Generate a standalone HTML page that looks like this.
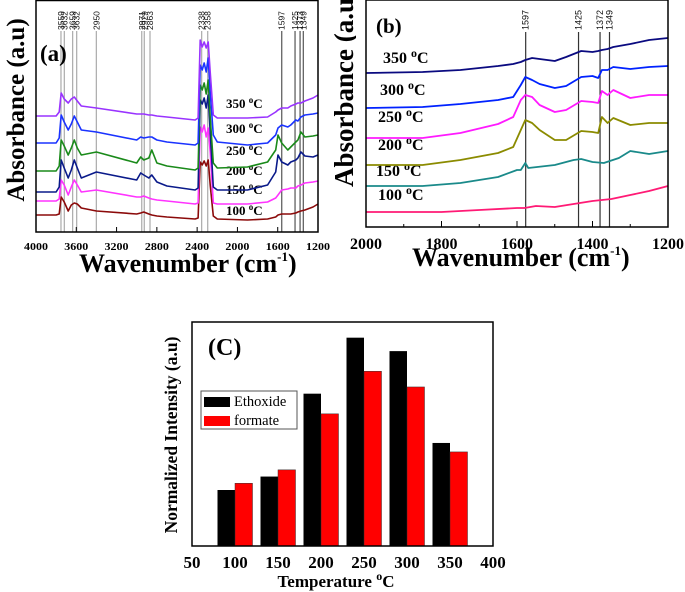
<!DOCTYPE html>
<html><head><meta charset="utf-8">
<style>
body{margin:0;background:#fff;}
svg{display:block;font-family:"Liberation Serif",serif;}
</style></head>
<body>
<svg id="fig" width="685" height="592" viewBox="0 0 685 592">
<g id="pa"></g>
<g id="pb"></g>
<g id="pc"></g>
</svg>
<script>
// ---------- Panel (a) data ----------
const aWave = [4000,3800,3770,3750,3720,3680,3650,3620,3590,3550,3400,3000,2960,2930,2880,2850,2800,2700,2420,2390,2370,2350,2330,2310,2290,2270,2240,2200,1900,1700,1620,1597,1560,1500,1470,1420,1400,1370,1330,1250,1200];
const aLabels = ["100","150","200","250","300","350"];
const aColors = ["#8b0a0a","#ff33ff","#0a1a8a","#1a8a1a","#1a33ff","#9933ff"];
const a100 = [17,17,18,35,30,21,27,29,28,24,21,18,19,20,18,17,16,15,13,14,70,67,71,66,72,47,16,13,12,13,15,17,18,18,18,19,20,21,22,25,28];
const a150 = [31,31,33,52,47,37,45,52,47,40,42,35,35,36,34,33,32,31,28,29,105,100,107,95,104,80,29,28,28,30,34,37,42,43,44,44,46,47,49,50,51];
const a200 = [40,40,45,72,64,54,62,72,64,54,60,52,59,57,54,57,50,46,42,44,132,128,134,124,137,100,45,42,42,47,60,77,70,67,70,72,74,80,76,75,77];
const a250 = [61,61,66,92,86,77,84,92,84,77,80,69,75,72,74,82,69,66,62,64,147,142,149,138,152,115,69,64,65,70,82,97,89,82,85,90,92,100,95,96,97];
const a300 = [89,89,94,117,110,102,108,116,110,102,100,92,95,94,95,95,92,90,87,89,167,162,169,160,174,140,97,90,87,89,97,104,107,105,107,112,111,115,117,118,119];
const a350 = [116,116,120,139,133,129,133,135,131,126,124,118,118,118,117,117,116,115,112,114,192,185,190,184,190,160,117,114,114,115,120,122,124,124,126,128,129,129,131,134,137];
const aSeries = [a100,a150,a200,a250,a300,a350];
const aLinePos = [3752,3719,3636,3596,3401,2950,2925,2868,2355,2295,1560,1428,1378,1346];
const aLineText = ["3559","3632","3659","3632","2950","2971","2929","2863","2338","2358","1597","1425","1373","1349"];
const aTicks = [4000,3600,3200,2800,2400,2000,1600,1200];
const aTempY = [17,38,57,77,99,124];

// ---------- Panel (b) data ----------
const bWave100 = [2000,1800,1700,1600,1580,1550,1500,1450,1400,1350,1300,1250,1200];
const b100 = [20,20,22,24,24,26,25,28,31,33,37,41,46];
const bWave150 = [2000,1850,1750,1650,1600,1590,1578,1570,1500,1450,1430,1400,1370,1330,1300,1250,1200];
const b150 = [46,46,49,55,62,62,69,64,67,72,73,70,69,74,81,78,81];
const bWave = [2000,1850,1750,1650,1610,1590,1578,1560,1540,1500,1470,1430,1400,1385,1375,1360,1345,1300,1250,1200];
const b200 = [67,67,72,79,85,102,112,109,102,92,92,101,100,99,115,109,114,107,109,109];
const b250 = [94,94,99,108,115,132,137,135,127,120,122,131,130,129,141,137,142,134,137,137];
const b300 = [124,125,128,132,135,147,155,152,148,144,146,155,156,154,162,162,165,163,165,166];
const b350 = [159,160,162,166,168,170,172,174,173,171,175,181,180,181,182,183,185,188,192,194];
const bSeriesWave = [bWave100,bWave150,bWave,bWave,bWave,bWave];
const bSeries = [b100,b150,b200,b250,b300,b350];
const bColors = ["#ff1a75","#1a8a8a","#8b8b00","#ff1aff","#0022ff","#0a0a80"];
const bLinePos = [1577,1437,1380,1355];
const bLineText = ["1597","1425","1372","1349"];
const bTicks = [2000,1800,1600,1400,1200];
const bTempY = [200,176,150,122,95,63];
const bTempX = [378,376,378,378,380,383];

// ---------- Panel (c) data ----------
const cTemps = [100,150,200,250,300,350];
const cEthoxide = [0.25,0.31,0.68,0.93,0.87,0.46];
const cFormate = [0.28,0.34,0.59,0.78,0.71,0.42];
const cTicks = [50,100,150,200,250,300,350,400];

const NS="http://www.w3.org/2000/svg";
function mk(parent,tag,attrs,text){
  const e=document.createElementNS(NS,tag);
  for(const k in attrs) e.setAttribute(k,attrs[k]);
  if(text!==undefined) e.textContent=text;
  parent.appendChild(e); return e;
}
function lin(d0,d1,r0,r1){return v=>r0+(v-d0)/(d1-d0)*(r1-r0);}

// ===== Panel A =====
(function(){
  const g=document.getElementById('pa');
  const X=lin(4000,1200,36,318), Y=lin(0,232,232,0);
  aLinePos.forEach((w,i)=>{
    const l=mk(g,'line',{x1:X(w),x2:X(w),y1:31,y2:232,stroke:i>=10?'#555':'#aaa','stroke-width':1.2});
    
    
    const t=mk(g,'text',{x:0,y:0,transform:`translate(${X(w)+3},30) rotate(-90)`,'font-family':'Liberation Sans, sans-serif','font-size':8.5,fill:'#111'},aLineText[i]);
    
    
  });
  aSeries.forEach((s,si)=>{
    const pts=s.map((v,i)=>X(aWave[i]).toFixed(1)+','+Y(v).toFixed(1)).join(' ');
    const p=mk(g,'polyline',{points:pts,fill:'none',stroke:aColors[si],'stroke-width':1.6,'stroke-linejoin':'round'});
    
    
    const t=mk(g,'text',{x:226,y:232-aTempY[si],'font-size':13,'font-weight':'bold',fill:'#000'});
    
    
    t.innerHTML=aLabels[si]+' <tspan dy="-5" font-size="9">o</tspan><tspan dy="5">C</tspan>';
  });
  const f=mk(g,'rect',{x:36,y:0.5,width:282,height:231.5,fill:'none',stroke:'#000','stroke-width':1.5});
  
  aTicks.forEach(t=>{
    mk(g,'line',{x1:X(t),x2:X(t),y1:232,y2:227,stroke:'#000','stroke-width':1});
    const tl=mk(g,'text',{x:X(t),y:250,'text-anchor':'middle','font-size':11,'font-weight':'bold',textLength:24,lengthAdjust:'spacingAndGlyphs'},t);
    
  });
  const pl=mk(g,'text',{x:40,y:61,'font-size':23,'font-weight':'bold'},'(a)');
  
  const xl=mk(g,'text',{x:79,y:272,'font-size':26,'font-weight':'bold'});
  
  xl.innerHTML='Wavenumber (cm<tspan dy="-11" font-size="13">-1</tspan><tspan dy="11">)</tspan>';
  const yl=mk(g,'text',{x:0,y:0,transform:'translate(24,110) rotate(-90)','text-anchor':'middle','font-size':25,'font-weight':'bold'},'Absorbance (a.u)');
  
})();

// ===== Panel B =====
(function(){
  const g=document.getElementById('pb');
  const X=lin(2000,1200,366,668), Y=lin(0,232,232,0);
  const yl=mk(g,'text',{x:0,y:0,transform:'translate(353,88) rotate(-90)','text-anchor':'middle','font-size':27,'font-weight':'bold'},'Absorbance (a.u)');
  
  mk(g,'rect',{x:356,y:0,width:10,height:232,fill:'#fff'});
  bLinePos.forEach((w,i)=>{
    const l=mk(g,'line',{x1:X(w),x2:X(w),y1:32,y2:227,stroke:'#333','stroke-width':1.2});
    
    
    const t=mk(g,'text',{x:0,y:0,transform:`translate(${X(w)+3},30) rotate(-90)`,'font-family':'Liberation Sans, sans-serif','font-size':9,fill:'#111'},bLineText[i]);
    
    
  });
  bSeries.forEach((s,si)=>{
    const wv=bSeriesWave[si];
    const pts=s.map((v,i)=>X(wv[i]).toFixed(1)+','+Y(v).toFixed(1)).join(' ');
    const p=mk(g,'polyline',{points:pts,fill:'none',stroke:bColors[si],'stroke-width':1.8,'stroke-linejoin':'round'});
    
    
    const t=mk(g,'text',{x:bTempX[si],y:bTempY[si],'font-size':16,'font-weight':'bold'});
    
    
    t.innerHTML=aLabels[si]+' <tspan dy="-6" font-size="12">o</tspan><tspan dy="6">C</tspan>';
  });
  const f=mk(g,'rect',{x:366,y:0,width:302,height:227,fill:'none',stroke:'#000','stroke-width':1.5});
  
  for(let w=2000;w>=1200;w-=100){
    mk(g,'line',{x1:X(w),x2:X(w),y1:227,y2:w%200===0?221:224,stroke:'#000','stroke-width':1});
  }
  bTicks.forEach(t=>{
    const tl=mk(g,'text',{x:X(t),y:249,'text-anchor':'middle','font-size':16,'font-weight':'bold'},t);
    
  });
  const pl=mk(g,'text',{x:376,y:33,'font-size':21,'font-weight':'bold'},'(b)');
  
  const xl=mk(g,'text',{x:412,y:266,'font-size':26,'font-weight':'bold'});
  
  xl.innerHTML='Wavenumber (cm<tspan dy="-11" font-size="13">-1</tspan><tspan dy="11">)</tspan>';
})();

// ===== Panel C =====
(function(){
  const g=document.getElementById('pc');
  const X=lin(50,400,192,493), Y=lin(0,1,546,322);
  const bw=17.5;
  cTemps.forEach((t,i)=>{
    const e=mk(g,'rect',{x:X(t)-bw,y:Y(cEthoxide[i]),width:bw,height:546-Y(cEthoxide[i]),fill:'#000'});
    
    
    const r=mk(g,'rect',{x:X(t),y:Y(cFormate[i]),width:bw,height:546-Y(cFormate[i]),fill:'#ff0000',stroke:'#333','stroke-width':0.5});
    
    
  });
  const f=mk(g,'rect',{x:192,y:322,width:301,height:224,fill:'none',stroke:'#000','stroke-width':1.5});
  
  cTicks.forEach(t=>{
    const tl=mk(g,'text',{x:X(t),y:568,'text-anchor':'middle','font-size':17,'font-weight':'bold'},t);
    
  });
  const lg=mk(g,'g',{});
  
  mk(lg,'rect',{x:201,y:391,width:96,height:38,fill:'#fff',stroke:'#555','stroke-width':1});
  mk(lg,'rect',{x:204,y:397,width:26,height:10,fill:'#000'});
  mk(lg,'rect',{x:204,y:416,width:26,height:10,fill:'#ff0000'});
  const l1=mk(lg,'text',{x:234,y:406,'font-size':14.5},'Ethoxide');
  
  const l2=mk(lg,'text',{x:234,y:425,'font-size':14.5},'formate');
  
  const pl=mk(g,'text',{x:208,y:355,'font-size':24,'font-weight':'bold'},'(C)');
  
  const xl=mk(g,'text',{x:336,y:587,'text-anchor':'middle','font-size':17,'font-weight':'bold'});
  
  xl.innerHTML='Temperature <tspan dy="-7" font-size="12">o</tspan><tspan dy="7">C</tspan>';
  const yl=mk(g,'text',{x:0,y:0,transform:'translate(177,435) rotate(-90)','text-anchor':'middle','font-size':17.5,'font-weight':'bold'},'Normalized Intensity (a.u)');
  
})();
</script>
</body></html>
